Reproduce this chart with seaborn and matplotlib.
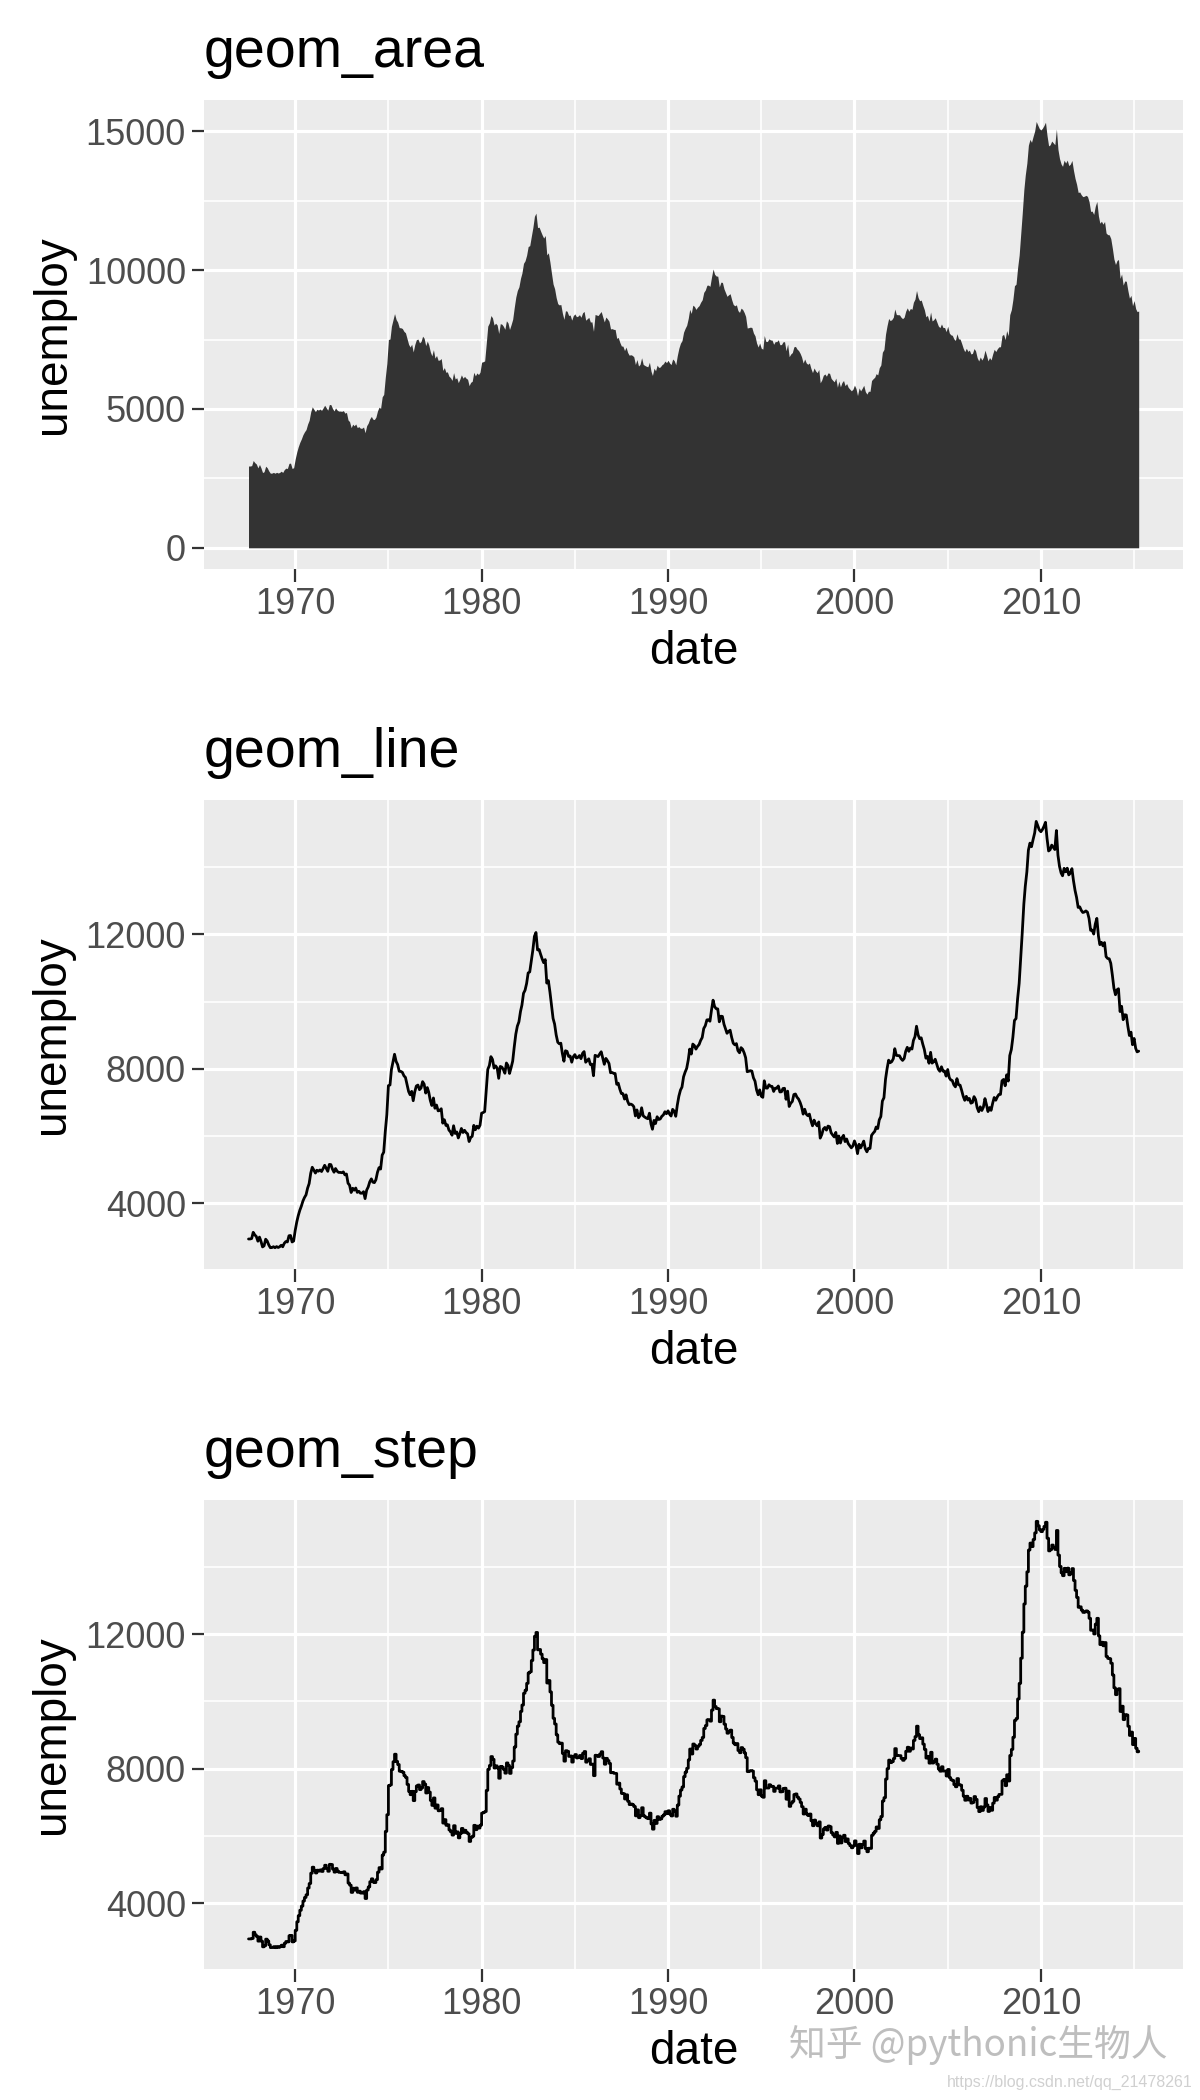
import numpy as np
import pandas as pd
import matplotlib
matplotlib.use("Agg")
import matplotlib.pyplot as plt
import matplotlib.dates as mdates
import seaborn as sns

# ---- data: monthly unemployment (thousands), Jul 1967 .. Apr 2015 ----
start_month = "1967-07-01"
unemploy = [
    2944, 2945, 2958, 3143, 3066, 3018,                                   # 1967 (Jul-Dec)
    2878, 3001, 2877, 2709, 2740, 2938, 2883, 2768, 2686, 2689, 2715, 2685,  # 1968
    2718, 2692, 2712, 2758, 2713, 2816, 2868, 2856, 3040, 3049, 2856, 2884,  # 1969
    3201, 3453, 3635, 3797, 3919, 4071, 4175, 4256, 4456, 4591, 4898, 5076,  # 1970
    4986, 4903, 4987, 4959, 4996, 4949, 5035, 5134, 5042, 4954, 5161, 5154,  # 1971
    5019, 4928, 5038, 4959, 4922, 4923, 4913, 4939, 4849, 4875, 4602, 4543,  # 1972
    4326, 4452, 4394, 4459, 4329, 4363, 4305, 4305, 4350, 4144, 4396, 4489,  # 1973
    4644, 4731, 4634, 4618, 4705, 4927, 5063, 5022, 5437, 5523, 6140, 6636,  # 1974
    7501, 7520, 7978, 8210, 8433, 8220, 8127, 7928, 7923, 7897, 7794, 7744,  # 1975
    7534, 7326, 7230, 7330, 7053, 7322, 7490, 7518, 7380, 7430, 7620, 7545,  # 1976
    7280, 7443, 7307, 7059, 6911, 7134, 6829, 6925, 6751, 6763, 6815, 6386,  # 1977
    6489, 6318, 6337, 6180, 6127, 6028, 6309, 6080, 6125, 5947, 6077, 6228,  # 1978
    6109, 6173, 6109, 6069, 5840, 5959, 5996, 6320, 6190, 6296, 6238, 6325,  # 1979
    6683, 6702, 6729, 7358, 7984, 8098, 8363, 8281, 8021, 8088, 8023, 7718,  # 1980
    8071, 8051, 7982, 7869, 8174, 8098, 7863, 8036, 8230, 8646, 9029, 9267,  # 1981
    9397, 9705, 9895, 10244, 10335, 10538, 10849, 10881, 11217, 11529, 11938, 12051,  # 1982
    11534, 11545, 11408, 11268, 11154, 11246, 10548, 10623, 10282, 9887, 9499, 9331,  # 1983
    9008, 8791, 8746, 8762, 8456, 8226, 8537, 8519, 8367, 8381, 8198, 8358,  # 1984
    8423, 8321, 8339, 8395, 8302, 8460, 8513, 8196, 8248, 8298, 8128, 8138,  # 1985
    7795, 8402, 8383, 8364, 8439, 8508, 8319, 8135, 8310, 8243, 8159, 7883,  # 1986
    7892, 7865, 7862, 7542, 7574, 7398, 7268, 7261, 7102, 7227, 7035, 6936,  # 1987
    6953, 6929, 6876, 6601, 6779, 6546, 6605, 6843, 6604, 6568, 6537, 6518,  # 1988
    6682, 6359, 6205, 6468, 6375, 6577, 6495, 6511, 6590, 6630, 6725, 6667,  # 1989
    6752, 6651, 6598, 6797, 6742, 6590, 6922, 7188, 7368, 7459, 7764, 7901,  # 1990
    8015, 8265, 8586, 8439, 8736, 8692, 8586, 8666, 8722, 8842, 8931, 9198,  # 1991
    9283, 9454, 9460, 9415, 9744, 10040, 9850, 9787, 9781, 9398, 9565, 9557,  # 1992
    9325, 9183, 9056, 9110, 9149, 8930, 8763, 8714, 8750, 8542, 8477, 8630,  # 1993
    8583, 8470, 8331, 7915, 7927, 7946, 7933, 7734, 7632, 7375, 7230, 7375,  # 1994
    7187, 7153, 7645, 7430, 7427, 7527, 7484, 7478, 7328, 7426, 7423, 7491,  # 1995
    7313, 7318, 7415, 7423, 7095, 7337, 6882, 6979, 7031, 7236, 7253, 7158,  # 1996
    7102, 7000, 6873, 6655, 6799, 6655, 6608, 6656, 6454, 6308, 6476, 6368,  # 1997
    6306, 6422, 5941, 6047, 6212, 6259, 6179, 6300, 6280, 6100, 6032, 5976,  # 1998
    6111, 5783, 6004, 5796, 5951, 6025, 5838, 5915, 5778, 5716, 5653, 5708,  # 1999
    5858, 5733, 5481, 5758, 5651, 5747, 5853, 5625, 5534, 5639, 5634, 6023,  # 2000
    6089, 6141, 6271, 6226, 6484, 6583, 7042, 7142, 7694, 8003, 8258, 8182,  # 2001
    8215, 8304, 8599, 8399, 8393, 8390, 8304, 8251, 8307, 8520, 8640, 8520,  # 2002
    8618, 8588, 8842, 8957, 9266, 9011, 8896, 8921, 8732, 8576, 8317, 8370,  # 2003
    8167, 8491, 8170, 8212, 8286, 8136, 7990, 7927, 8061, 7932, 7934, 7784,  # 2004
    7980, 7737, 7672, 7651, 7527, 7465, 7709, 7526, 7515, 7361, 7185, 7064,  # 2005
    7184, 7072, 7120, 6980, 7001, 7175, 7091, 6847, 6727, 6872, 6762, 6862,  # 2006
    7116, 6927, 6731, 6850, 6766, 6979, 7149, 7067, 7170, 7237, 7240, 7645,  # 2007
    7685, 7497, 7822, 7637, 8395, 8575, 8937, 9438, 9494, 10074, 10538, 11286,  # 2008
    12058, 12898, 13426, 13853, 14499, 14707, 14601, 14814, 15009, 15352, 15219, 15098,  # 2009
    15046, 15113, 15202, 15325, 14849, 14474, 14512, 14648, 14579, 14516, 15081, 14348,  # 2010
    14013, 13820, 13737, 13957, 13855, 13962, 13763, 13818, 13948, 13594, 13302, 13093,  # 2011
    12797, 12813, 12713, 12646, 12660, 12692, 12656, 12471, 12115, 12124, 12005, 12298,  # 2012
    12471, 11950, 11689, 11760, 11654, 11751, 11335, 11279, 11270, 11136, 10787, 10404,  # 2013
    10202, 10349, 10380, 9702, 9859, 9460, 9608, 9599, 9262, 8990, 9090, 8717,  # 2014
    8903, 8610, 8504, 8526,                                               # 2015 (Jan-Apr)
]
panel_titles = ["geom_area", "geom_line", "geom_step"]
x_major_years = [1970, 1980, 1990, 2000, 2010]
x_minor_years = [1975, 1985, 1995, 2005, 2015]
y_major = [[0, 5000, 10000, 15000], [4000, 8000, 12000], [4000, 8000, 12000]]
y_minor = [[2500, 7500, 12500], [6000, 10000, 14000], [6000, 10000, 14000]]

df = pd.DataFrame({
    "date": pd.date_range(start_month, periods=len(unemploy), freq="MS"),
    "unemploy": unemploy,
})

# ---- style ----
sns.set_theme(style="darkgrid")
plt.rcParams["font.family"] = ["Liberation Sans", "Noto Sans CJK SC", "DejaVu Sans"]

fig = plt.figure(figsize=(12, 21), dpi=100)
fig.patch.set_facecolor("white")

left, width, height = 0.17, 0.816, 0.2233
bottoms = [0.729, 0.3957, 0.0624]

xnum = mdates.date2num(df["date"])
x0, x1 = xnum.min(), xnum.max()
xpad = 0.05 * (x1 - x0)

for i, title in enumerate(panel_titles):
    ax = fig.add_axes([left, bottoms[i], width, height])
    ax.set_facecolor("#EBEBEB")
    if i == 0:
        ax.fill_between(df["date"], 0, df["unemploy"], color="#333333", linewidth=0)
        ymin, ymax = 0, df["unemploy"].max()
    elif i == 1:
        sns.lineplot(data=df, x="date", y="unemploy", ax=ax, color="black",
                     linewidth=2.0, estimator=None)
        ymin, ymax = df["unemploy"].min(), df["unemploy"].max()
    else:
        sns.lineplot(data=df, x="date", y="unemploy", ax=ax, color="black",
                     linewidth=2.0, estimator=None, drawstyle="steps-post")
        ymin, ymax = df["unemploy"].min(), df["unemploy"].max()
    ypad = 0.05 * (ymax - ymin)
    ax.set_ylim(ymin - ypad, ymax + ypad)
    ax.set_xlim(x0 - xpad, x1 + xpad)

    ax.set_xticks([mdates.date2num(pd.Timestamp(f"{y}-01-01")) for y in x_major_years])
    ax.set_xticks([mdates.date2num(pd.Timestamp(f"{y}-01-01")) for y in x_minor_years], minor=True)
    ax.xaxis.set_major_formatter(mdates.DateFormatter("%Y"))
    ax.set_yticks(y_major[i])
    ax.set_yticks(y_minor[i], minor=True)
    ax.set_yticklabels([str(v) for v in y_major[i]])

    ax.grid(which="major", color="white", linewidth=2.3)
    ax.grid(which="minor", color="white", linewidth=1.2)
    ax.set_axisbelow(True)
    for s in ax.spines.values():
        s.set_visible(False)

    ax.tick_params(axis="both", which="major", length=9, width=1.6, color="#333333",
                   labelsize=26, labelcolor="#4D4D4D", pad=4, direction="out")
    ax.tick_params(axis="both", which="minor", length=0)
    ax.tick_params(axis="x", bottom=True)
    ax.tick_params(axis="y", left=True)

    ax.set_xlabel("date", fontsize=33, color="black", labelpad=6)
    ax.set_ylabel("unemploy", fontsize=33, color="black", labelpad=8)
    ax.set_title(title, loc="left", fontsize=40, color="black", pad=24)

# watermark
fig.text(0.973, 0.0262, "知乎 @pythonic生物人", ha="right", va="center",
         fontsize=26.5, color="#BEBEBE", family=["Noto Sans CJK SC", "DejaVu Sans"])
fig.text(0.994, 0.0086, "https://blog.csdn.net/qq_21478261", ha="right", va="center",
         fontsize=11.5, color="#D0D0D0")

fig.savefig("out.png", dpi=100, facecolor="white")
